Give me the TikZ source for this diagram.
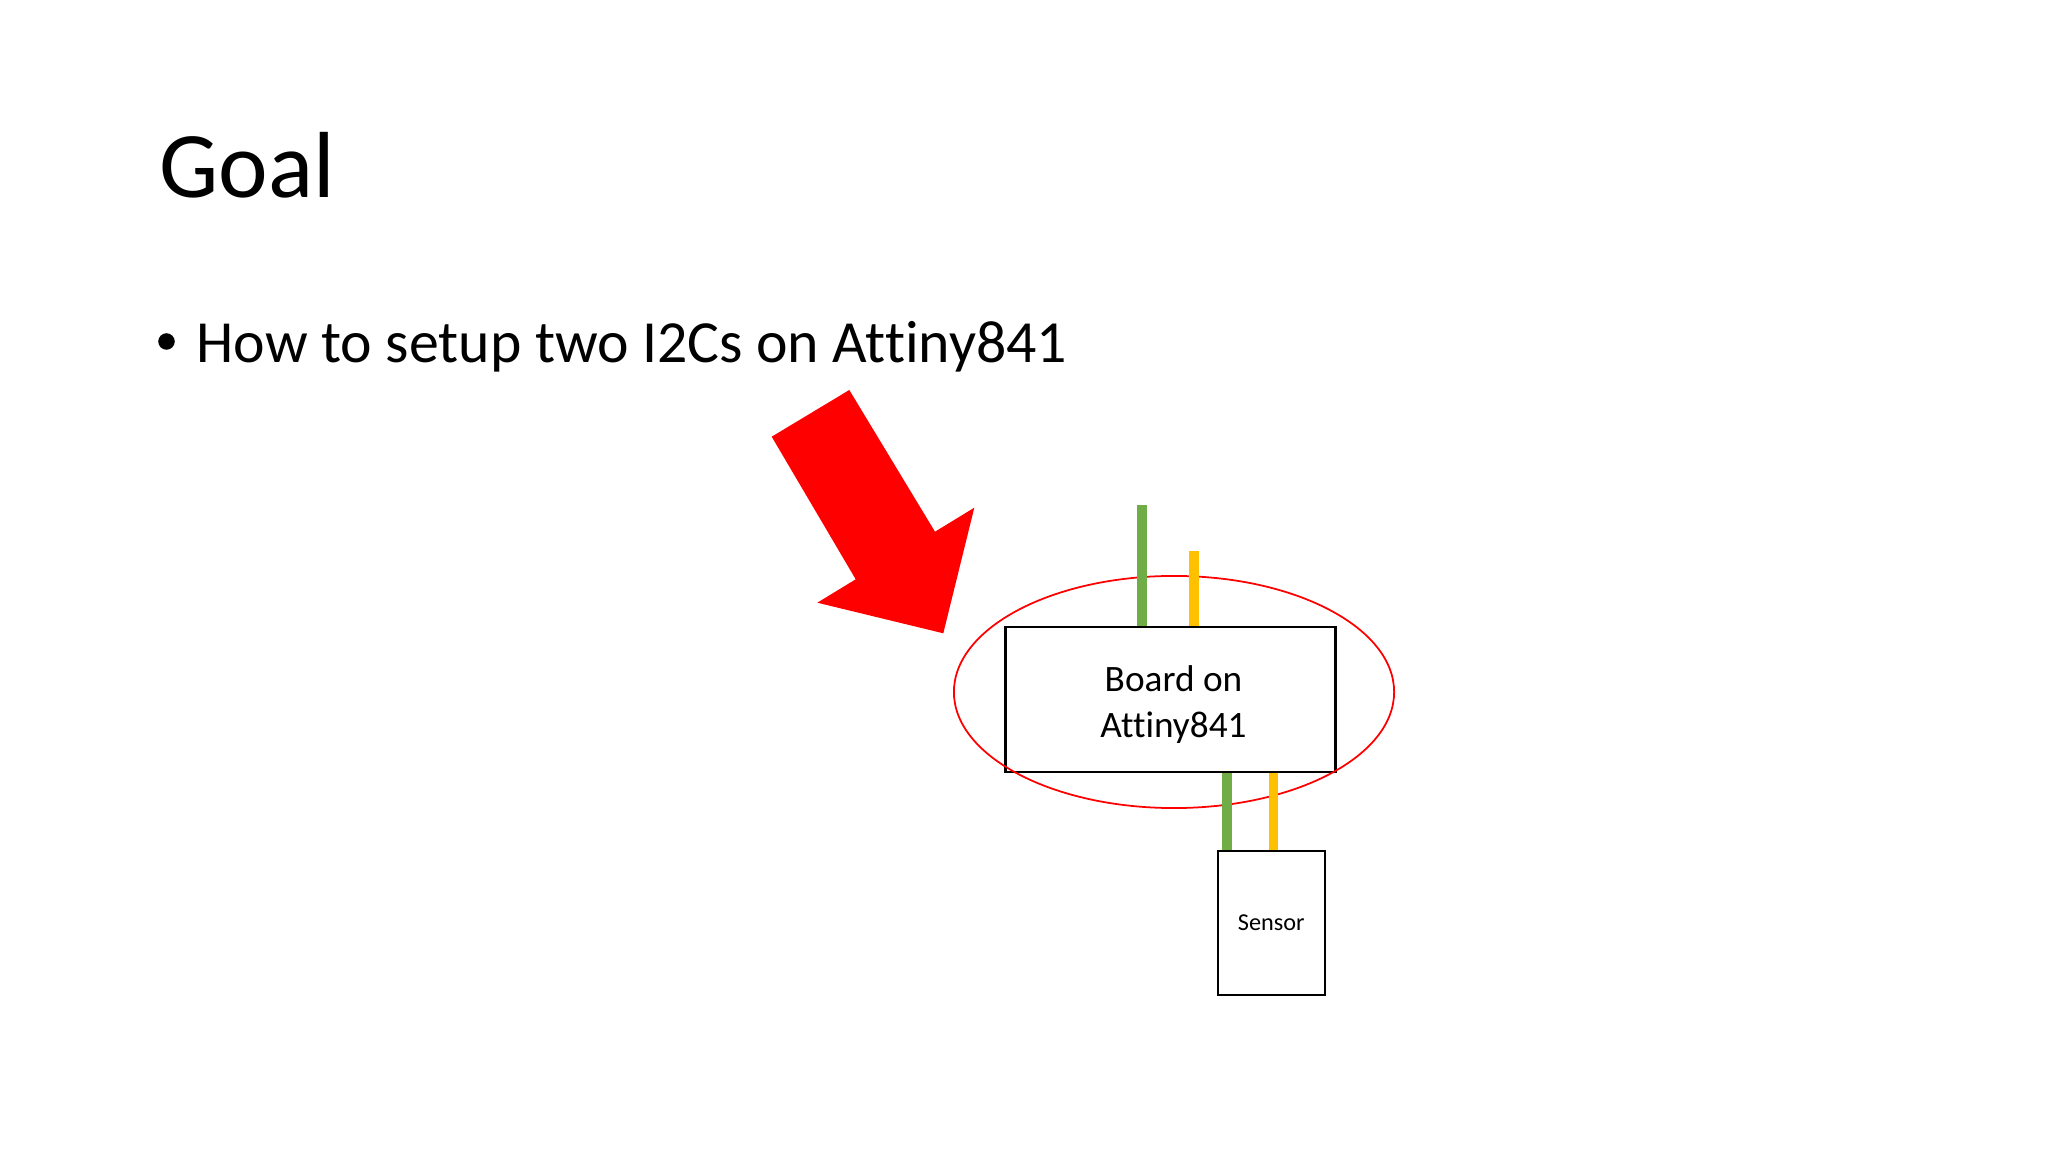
\documentclass[tikz,border=0pt]{standalone}
\usepackage{fontspec}
\setmainfont[Ligatures=NoCommon]{Carlito}
\usetikzlibrary{shapes.geometric, positioning}
\definecolor{wiregreen}{HTML}{70AD47}
\definecolor{wireyellow}{HTML}{FFC000}
\tikzstyle{board} = [rectangle, draw=black, line width=0.7pt, minimum width=3.30cm, minimum height=1.45cm]
\tikzstyle{boardtext} = [align=center, inner sep=0pt, font=\fontsize{10.6}{13.1}\selectfont]
\tikzstyle{sensorbox} = [rectangle, draw=black, line width=0.7pt, minimum width=1.07cm, minimum height=1.44cm, font=\fontsize{6.9}{8}\selectfont]
\tikzstyle{ring} = [ellipse, draw=red, line width=0.5pt, minimum width=4.4cm, minimum height=2.32cm, inner sep=0pt]
\tikzstyle{wire} = [line width=2.6pt]
\begin{document}
\begin{tikzpicture}[x=0.01cm, y=-0.01cm]
\fill[white] (0,0) rectangle (2048,1152);
\useasboundingbox (0,0) rectangle (2048,1152);

\node (title) [anchor=base west, inner sep=0pt, font=\fontsize{26.7}{32}\selectfont] at (159,198) {Goal};

\node (dot) [circle, fill=black, inner sep=0pt, minimum size=0.165cm] at (166.5,341.5) {};
\node (goal) [anchor=base west, inner sep=0pt, font=\fontsize{17}{20}\selectfont] at (196,363) {How to setup two I2Cs on Attiny841};

% big red arrow
\fill[red] (771.7,436.7) -- (849.3,390) -- (935,531.7) -- (974.3,507.7) -- (943.3,633.3) -- (817.3,602.7) -- (855.7,579.3) -- cycle;

\node (board) [board] at (1170.5,699.7) {};
\node (label) [boardtext] at ([xshift=0.03cm, yshift=-0.046cm]board.center) {Board on\\Attiny841};
\node (sensor) [sensorbox, below=0.76cm of board.south, xshift=1.007cm] {Sensor};
\node (ring) [ring] at ([xshift=0.035cm, yshift=0.077cm]board.center) {};

% wires on top
\coordinate (tg) at ([xshift=-0.285cm]board.north);
\coordinate (ty) at ([xshift=0.235cm]board.north);
\draw [wire, wiregreen] (tg) -- ++(0,-121);
\draw [wire, wireyellow] (ty) -- ++(0,-75);

% wires to sensor
\coordinate (sg) at ([xshift=-0.442cm]sensor.north);
\coordinate (sy) at ([xshift=0.018cm]sensor.north);
\draw [wire, wiregreen] (sg) -- (sg |- board.south);
\draw [wire, wireyellow] (sy) -- (sy |- board.south);
\end{tikzpicture}
\end{document}
